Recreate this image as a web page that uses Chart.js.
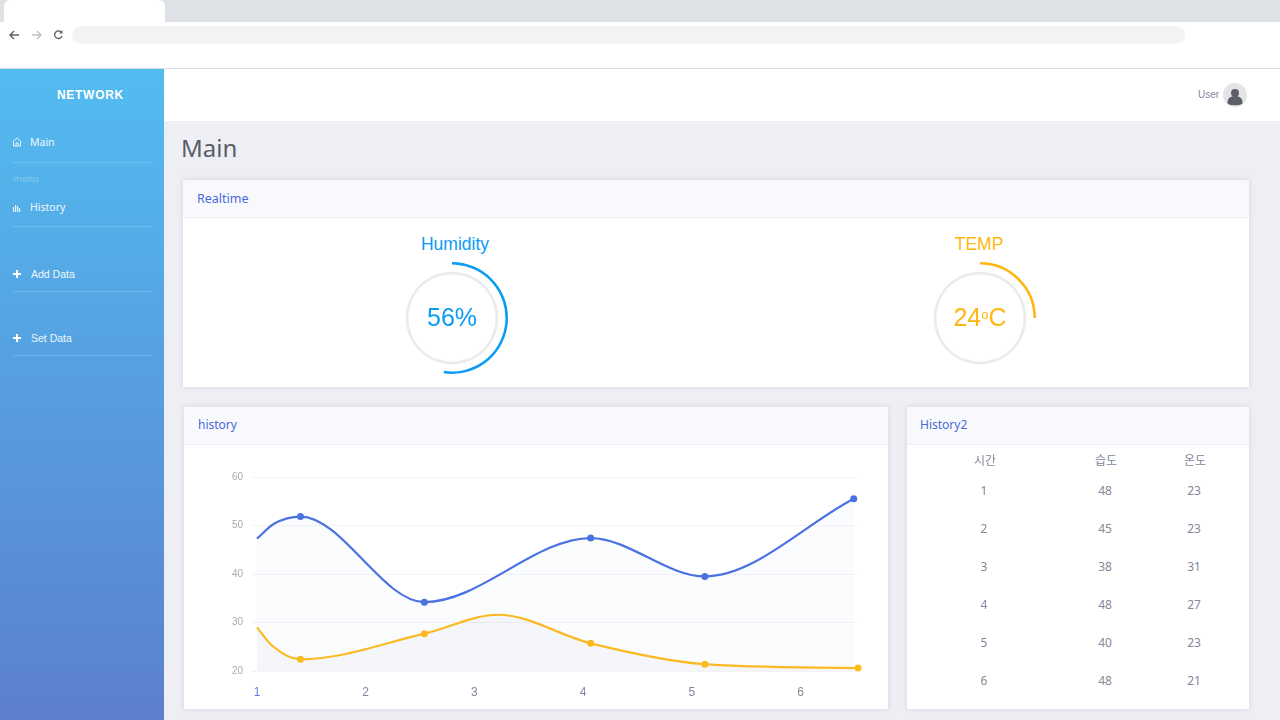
<!DOCTYPE html>
<html>
<head>
<meta charset="utf-8">
<title>Network</title>
<script src="https://cdn.jsdelivr.net/npm/chart.js@4"></script>
<style>
    * { box-sizing: border-box; }
    html, body { margin: 0; width: 1280px; height: 720px; overflow: hidden; background: #eeeff4; font-family: "Noto Sans", "Noto Sans CJK KR", sans-serif; }
    .abs { position: absolute; white-space: nowrap; }
    #tabs { left: 0; top: 0; width: 1280px; height: 22px; background: #dee1e6; }
    #tab { left: 4px; top: 0; width: 161px; height: 22px; background: #fff; border-radius: 6px 6px 0 0; }
    #toolbar { left: 0; top: 22px; width: 1280px; height: 47px; background: #fff; border-bottom: 1px solid #dadce0; }
    #address { left: 72px; top: 26px; width: 1113px; height: 18px; background: #f1f3f4; border-radius: 9px; }
    #side { left: 0; top: 69px; width: 164px; height: 651px; background: linear-gradient(#52bcf0, #5c7fce); color: #fff; }
    #topbar { left: 164px; top: 69px; width: 1116px; height: 52px; background: #fff; }
    .item { font-size: 10.5px; line-height: 14px; color: #eef7fd; transform: translateY(-50%); }
    .rule { left: 13px; width: 139px; height: 1px; background: rgba(255,255,255,.16); }
    .card { background: #fff; box-shadow: 0 0 5px rgba(120,125,150,.22); }
    .card-head { left: 0; top: 0; width: 100%; height: 38px; background: #f8f9fd; border-bottom: 1px solid #eef0f6; color: #4a69d8; font-size: 12px; line-height: 35px; padding-left: 14px; }
    .gauge-title { font-family: "Liberation Sans", sans-serif; font-size: 17.5px; transform: translate(-50%, -50%); }
    .gauge-value { font-family: "Liberation Sans", sans-serif; font-size: 25px; transform: translate(-50%, -50%); }
    .cell { font-size: 12px; color: #85879a; transform: translate(-50%, -50%); }
</style>
</head>
<body>
<div class="abs" id="tabs"></div>
<div class="abs" id="tab"></div>
<div class="abs" id="toolbar"></div>
<div class="abs" id="address"></div>
<svg class="abs" style="left:8px;top:28px" width="60" height="14" viewBox="0 0 60 14" fill="none" stroke-width="1.4">
    <path d="M11 7H2M6 3L2 7l4 4" stroke="#5f6368"/>
    <path d="M24 7h9M29 3l4 4-4 4" stroke="#c0c2c6"/>
    <path d="M53.5 4.5A3.8 3.8 0 1 0 54 8" stroke="#5f6368"/>
    <path d="M54.5 2v3.5H51z" fill="#5f6368"/>
</svg>

<div class="abs" id="side"></div>
<div class="abs" style="left:57px;top:88px;font:bold 12px 'Liberation Sans',sans-serif;letter-spacing:.7px;color:#fff">NETWORK</div>
<svg class="abs" style="left:12px;top:137px" width="10" height="10" viewBox="0 0 10 10" fill="none" stroke="#e4f3fc"><path d="M1.5 9V4L5 1l3.5 3v5zM4 9V6h2v3"/></svg>
<div class="abs item" style="left:30px;top:142px">Main</div>
<div class="abs rule" style="top:162px"></div>
<div class="abs" style="left:13px;top:172px;font-size:9.5px;color:rgba(255,255,255,.3)">menu</div>
<svg class="abs" style="left:13px;top:203px" width="8" height="9" viewBox="0 0 8 9" fill="#e4f3fc"><path d="M0 4h1.2v5H0zM2 2h1.2v7H2zM4 3h1.2v6H4zM6 5h1.2v4H6z"/></svg>
<div class="abs item" style="left:30px;top:207px">History</div>
<div class="abs rule" style="top:226px"></div>
<svg class="abs" style="left:13px;top:270px" width="8" height="8" viewBox="0 0 8 8" fill="#fff"><path d="M3 0h2v3h3v2H5v3H3V5H0V3h3z"/></svg>
<div class="abs item" style="left:31px;top:274px;font:10.5px 'Liberation Sans',sans-serif">Add Data</div>
<div class="abs rule" style="top:291px"></div>
<svg class="abs" style="left:13px;top:334px" width="8" height="8" viewBox="0 0 8 8" fill="#fff"><path d="M3 0h2v3h3v2H5v3H3V5H0V3h3z"/></svg>
<div class="abs item" style="left:31px;top:338px;font:10.5px 'Liberation Sans',sans-serif">Set Data</div>
<div class="abs rule" style="top:355px"></div>

<div class="abs" id="topbar"></div>
<div class="abs" style="left:1198px;top:89px;font:10px 'Liberation Sans',sans-serif;color:#85879a">User</div>
<svg class="abs" style="left:1223px;top:83px" width="24" height="24" viewBox="0 0 24 24">
    <circle cx="12" cy="12" r="12" fill="#e4e4e6"/>
    <circle cx="12" cy="10" r="4" fill="#5c5f67"/>
    <path d="M4.500 20c0-5 3-7 7.500-7s7.500 2 7.500 7c0 3-15 3-15 0z" fill="#5c5f67"/>
</svg>

<div class="abs" style="left:181px;top:131px;font-size:24px;line-height:34px;color:#5a5c68">Main</div>

<div class="abs card" style="left:183px;top:180px;width:1066px;height:207px">
    <div class="abs card-head" style="font-size:12.5px;line-height:38px">Realtime</div>
</div>
<div class="abs gauge-title" style="left:455px;top:244px;color:#0a9bf5">Humidity</div>
<canvas class="abs" id="humidityGauge" style="left:394px;top:260px"></canvas>
<div class="abs gauge-value" style="left:452px;top:317px;color:#0a9bf5">56%</div>
<div class="abs gauge-title" style="left:979px;top:244px;color:#ffb70f">TEMP</div>
<canvas class="abs" id="tempGauge" style="left:922px;top:260px"></canvas>
<div class="abs gauge-value" style="left:980px;top:317px;color:#ffb70f">24<span style="font-size:13px;vertical-align:7px">o</span>C</div>

<div class="abs card" style="left:184px;top:407px;width:704px;height:302px">
    <div class="abs card-head">history</div>
</div>
<canvas class="abs" id="historyChart" style="left:184px;top:445px"></canvas>

<div class="abs card" id="tableCard" style="left:907px;top:407px;width:342px;height:302px">
    <div class="abs card-head" style="padding-left:13px">History2</div>
</div>

<script>
const blueX = [1, 1.16, 1.4, 2.54, 4.07, 5.12, 6.49];
const blueY = [47.3, 50.4, 51.85, 34.2, 47.4, 39.5, 55.5];
const blueMarked = [false, false, true, true, true, true, true];

const yellowX = [1, 1.14, 1.4, 2.54, 3.22, 4.07, 5.12, 6.53];
const yellowY = [29, 25.2, 22.4, 27.7, 31.6, 25.7, 21.4, 20.6];
const yellowMarked = [false, false, true, true, false, true, true, true];

const yTicks = [20, 30, 40, 50, 60];
const xTickStart = 1;
const xTickEnd = 6.52;

const humidityArc = 52.4;
const tempArc = 25;

const tableHeads = ['시간', '습도', '온도'];
const tableTimes = [1, 2, 3, 4, 5, 6];
const tableHumidity = [48, 45, 38, 48, 40, 48];
const tableTemp = [23, 23, 31, 27, 23, 21];

function toPoints(xs, ys) {
    return xs.map((x, i) => ({ x: x, y: ys[i] }));
}

function initHistoryChart() {
    const canvas = document.getElementById('historyChart');
    canvas.width = 704;
    canvas.height = 262;
    return new Chart(canvas.getContext('2d'), {
        type: 'line',
        data: {
            datasets: [
                {
                    data: toPoints(blueX, blueY),
                    borderColor: '#4a72e0',
                    backgroundColor: 'rgba(75,110,200,0.025)',
                    pointBackgroundColor: '#4a72e0',
                    pointBorderWidth: 0,
                    pointRadius: blueMarked.map(m => m ? 3.5 : 0),
                    borderWidth: 2.2,
                    cubicInterpolationMode: 'monotone',
                    fill: 'start',
                    clip: false
                },
                {
                    data: toPoints(yellowX, yellowY),
                    borderColor: '#ffbb1f',
                    backgroundColor: 'rgba(100,110,160,0.045)',
                    pointBackgroundColor: '#ffbb1f',
                    pointBorderWidth: 0,
                    pointRadius: yellowMarked.map(m => m ? 3.5 : 0),
                    borderWidth: 2.2,
                    cubicInterpolationMode: 'monotone',
                    fill: 'start',
                    clip: false
                }
            ]
        },
        options: {
            responsive: false,
            animation: false,
            layout: { padding: { left: 0, right: 31, top: 32, bottom: 0 } },
            plugins: { legend: { display: false }, tooltip: { enabled: false } },
            scales: {
                x: {
                    type: 'linear',
                    min: xTickStart,
                    max: xTickEnd,
                    afterFit: scale => { scale.height = 36; },
                    grid: { display: false },
                    border: { display: false },
                    ticks: {
                        stepSize: 1,
                        padding: 6,
                        maxRotation: 0,
                        font: { family: 'Liberation Sans', size: 12 },
                        color: ctx => ctx.index === 0 ? '#5f7fdc' : '#85879a',
                        callback: value => Number.isInteger(value) ? value : ''
                    }
                },
                y: {
                    min: yTicks[0],
                    max: yTicks[yTicks.length - 1],
                    afterFit: scale => { scale.width = 73; },
                    grid: { color: '#f3f3f7', tickLength: 5 },
                    border: { display: false },
                    ticks: {
                        stepSize: 10,
                        padding: 9,
                        font: { family: 'Liberation Sans', size: 10 },
                        color: '#a8a8b0'
                    }
                }
            }
        }
    });
}

function initGauge(id, arc, color) {
    const canvas = document.getElementById(id);
    canvas.width = 116;
    canvas.height = 116;
    return new Chart(canvas.getContext('2d'), {
        type: 'doughnut',
        data: {
            datasets: [
                { data: [arc, 100 - arc], backgroundColor: [color, 'rgba(0,0,0,0)'], borderWidth: 0, weight: 2.5 },
                { data: [100], backgroundColor: ['rgba(0,0,0,0)'], borderWidth: 0, weight: 7 },
                { data: [100], backgroundColor: ['#ebebeb'], borderWidth: 0, weight: 2.5 }
            ]
        },
        options: {
            responsive: false,
            animation: false,
            radius: 56,
            cutout: '78%',
            plugins: { legend: { display: false }, tooltip: { enabled: false } }
        }
    });
}

function addCell(text, x, y) {
    const el = document.createElement('div');
    el.className = 'abs cell';
    el.style.left = x + 'px';
    el.style.top = y + 'px';
    el.textContent = text;
    document.body.appendChild(el);
}

function initTable() {
    const columns = [984, 1105, 1194];
    tableHeads.forEach((head, i) => addCell(head, columns[i] + 1, 460));
    tableTimes.forEach((time, i) => {
        const y = 490 + i * 38;
        addCell(time, columns[0], y);
        addCell(tableHumidity[i], columns[1], y);
        addCell(tableTemp[i], columns[2], y);
    });
}

initHistoryChart();
initGauge('humidityGauge', humidityArc, '#0a9bf5');
initGauge('tempGauge', tempArc, '#ffb70f');
initTable();
</script>
</body>
</html>
